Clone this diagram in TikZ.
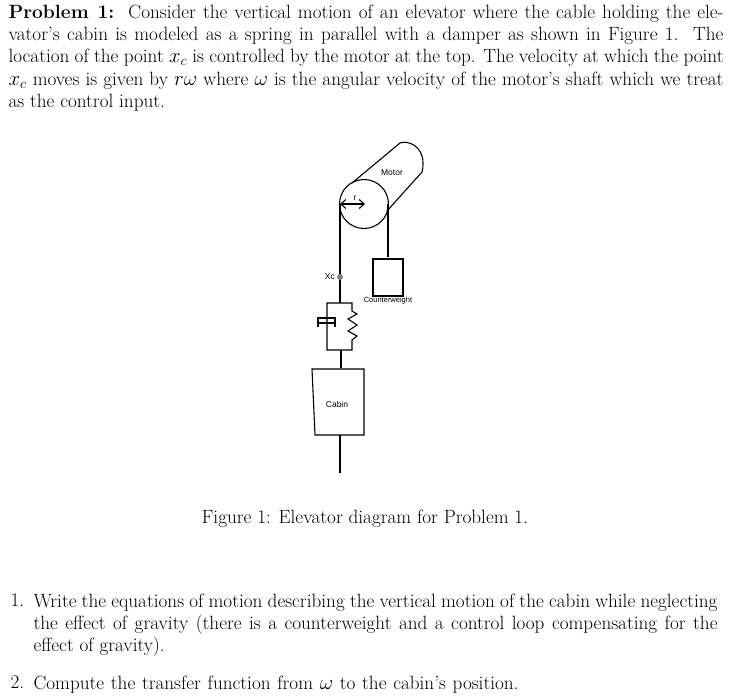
\documentclass[tikz,border=0pt]{standalone}
\usepackage{amsmath}
\usepackage{fontspec}
\newfontfamily\labelfont{Liberation Sans}
\usepackage{tikz}
\usetikzlibrary{positioning,arrows.meta}

\begin{document}
\begin{tikzpicture}[x=1pt,y=-1pt,line width=1.1pt,
        p/.style={font=\fontsize{19.2}{22.4}\selectfont, anchor=north west, inner sep=0pt, align=justify},
        lbl/.style={font=\labelfont\fontsize{8.5}{10}\selectfont, inner sep=0pt},
        dot/.style={circle, fill=gray, inner sep=0pt, minimum width=6pt}]
            \useasboundingbox (0,0) rectangle (740,698);
            % text
            \node [p, text width=715pt] (intro) at (8,4) {\textbf{Problem 1:}\ \ Consider the vertical motion of an elevator where the cable holding the ele-\linebreak
                vator's cabin is modeled as a spring in parallel with a damper as shown in Figure 1.\ \ The\linebreak
                location of the point $x_c$ is controlled by the motor at the top. The velocity at which the point\linebreak
                $x_c$ moves is given by $r\omega$ where $\omega$ is the angular velocity of the motor's shaft which we treat\linebreak
                as the control input.};
            \node [p, anchor=center, align=center] (caption) at (365,519) {Figure 1: Elevator diagram for Problem 1.};
            \node [p, align=left] (num1) at (10,593) {1.};
            \node [p, text width=684pt] (item1) at (33,593) {Write the equations of motion describing the vertical motion of the cabin while neglecting\linebreak
                the effect of gravity (there is a counterweight and a control loop compensating for the\linebreak
                effect of gravity).};
            \node [p, align=left] (num2) at (10,675) {2.};
            \node [p, align=left] (item2) at (33,675) {\hbox to 485pt{Compute the transfer function from $\omega$ to the cabin's position.}};
            % motor and pulley
            \draw (364,204) circle (24.5);
            \draw (352,183) -- (400,143) .. controls (408,140) and (423,146) .. (423,163)
                  .. controls (423,166) and (423,169) .. (422,172) -- (387,211);
            \coordinate (shaft) at (365,204);
            \coordinate (rimL) at (340,204);
            \coordinate (rimR) at (388,204);
            \draw [{Straight Barb[length=5pt,width=9pt]}-{Straight Barb[length=5pt,width=9pt]}] (rimL) -- (shaft);
            \node [lbl] (rlabel) at (355,198) {r};
            \node [lbl] (motor) at (392,173) {Motor};
            % counterweight
            \node [draw, minimum width=30pt, minimum height=37pt, inner sep=0pt] (weight) at (388,277.5) {};
            \node [lbl, font=\labelfont\fontsize{7.5}{9}\selectfont] (cwlabel) at (388,301) {Counterweight};
            \coordinate (weightTop) at (388,257);
            \draw (rimR) -- (weightTop);
            % cable, spring and damper
            \coordinate (top) at (340,303);
            \draw (rimL) -- (top);
            \node [dot] (xc) at (340,277) {};
            \node [lbl, left=1pt of xc] (xclabel) {Xc};
            \draw (327,350) -- (327,303) -- (352,303) -- (352,311)
                  -- (357,314) -- (348,319) -- (357,325) -- (348,331) -- (357,336) -- (352,340)
                  -- (352,350) -- cycle;
            \draw (319,323) -- (335,323) (318,327) -- (318,318) -- (335,318) -- (335,327);
            % cabin
            \draw (312,369) -- (364,369) -- (364,435) -- (315,435) -- cycle;
            \node [lbl] (cabin) at (337,404) {Cabin};
            \draw (341,350) -- (341,368);
            \draw (340,435) -- (340,473);
        \end{tikzpicture}
\end{document}
